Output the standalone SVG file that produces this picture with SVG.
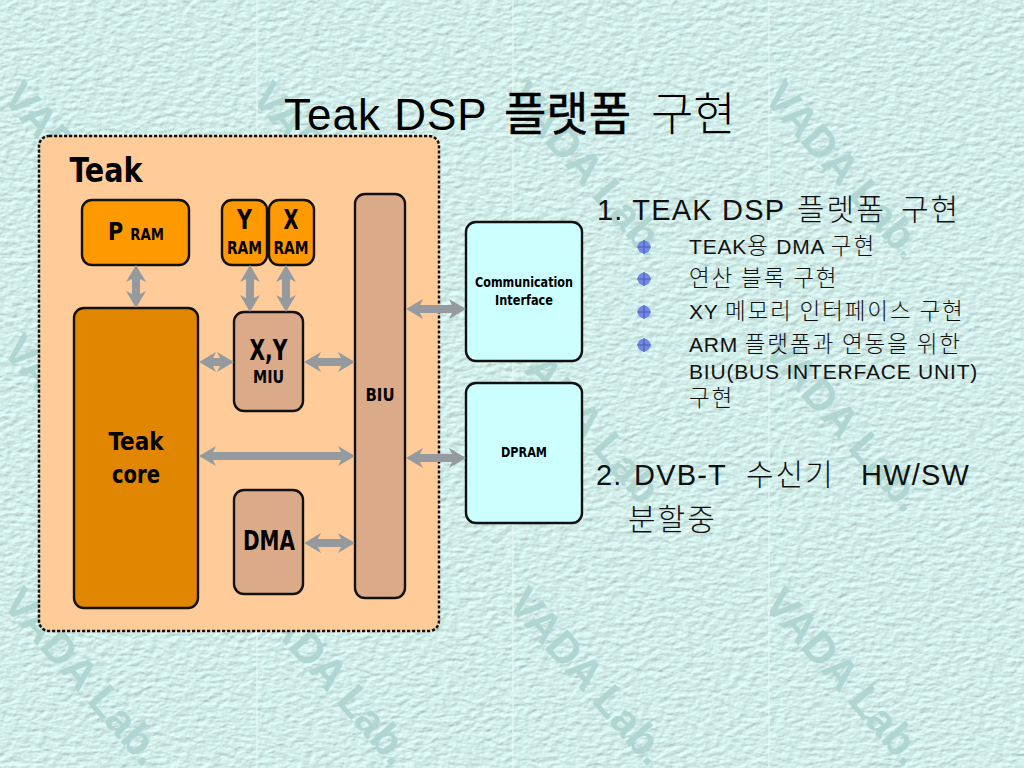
<svg xmlns="http://www.w3.org/2000/svg" width="1024" height="768" viewBox="0 0 1024 768">
<style>
.box{stroke:#111;stroke-width:2.4}
.b{font-family:"DejaVu Sans Condensed","DejaVu Sans",sans-serif;font-weight:700;fill:#000;text-anchor:middle}
.k{font-family:"Liberation Sans","Noto Sans CJK KR",sans-serif;fill:#111}
.wm{font-family:"Liberation Sans",sans-serif;font-weight:700;font-size:43px;fill:#b0d6d2}
.c{stroke:#959a9e;stroke-width:8;fill:none;marker-start:url(#ah);marker-end:url(#ah)}
.s1{font-size:29px;letter-spacing:1.2px}
.s2{font-size:21px;letter-spacing:.8px}
.h1{font-family:"Noto Sans CJK KR",sans-serif;font-size:30px;letter-spacing:2px;font-weight:300}
.h2{font-family:"Noto Sans CJK KR",sans-serif;font-size:22.5px;letter-spacing:1.9px;font-weight:300}
</style>
<defs>
<filter id="tex" x="0" y="0" width="100%" height="100%" color-interpolation-filters="sRGB">
<feTurbulence type="fractalNoise" baseFrequency="0.11 0.2" numOctaves="3" seed="4" result="n"/>
<feDiffuseLighting in="n" surfaceScale="0.75" diffuseConstant="1.12" lighting-color="#d4f0ec"><feDistantLight azimuth="235" elevation="62"/></feDiffuseLighting>
</filter>
<marker id="ah" markerUnits="userSpaceOnUse" markerWidth="20" markerHeight="24" refX="5" refY="12" orient="auto-start-reverse" viewBox="0 0 20 24">
<path d="M0 2L17 12L0 22L5 12Z" fill="#959a9e"/>
</marker>
<g id="bu"><circle r="6.5" fill="#7288e2"/><path d="M-7 0H7M0-7V7" stroke="#4a5fbd" stroke-width="1.1"/></g>
</defs>
<rect width="1024" height="768" fill="#fff" filter="url(#tex)"/>
<g id="watermark">
<text class="wm" transform="translate(1 98) rotate(49)">VADA Lab.</text>
<text class="wm" transform="translate(250 98) rotate(49)">VADA Lab.</text>
<text class="wm" transform="translate(506 98) rotate(49)">VADA Lab.</text>
<text class="wm" transform="translate(762 98) rotate(49)">VADA Lab.</text>
<text class="wm" transform="translate(1 351) rotate(49)">VADA Lab.</text>
<text class="wm" transform="translate(250 351) rotate(49)">VADA Lab.</text>
<text class="wm" transform="translate(506 351) rotate(49)">VADA Lab.</text>
<text class="wm" transform="translate(762 351) rotate(49)">VADA Lab.</text>
<text class="wm" transform="translate(1 604) rotate(49)">VADA Lab.</text>
<text class="wm" transform="translate(250 604) rotate(49)">VADA Lab.</text>
<text class="wm" transform="translate(506 604) rotate(49)">VADA Lab.</text>
<text class="wm" transform="translate(762 604) rotate(49)">VADA Lab.</text>
</g>
<g id="tile-seams" stroke="#eafaf8" stroke-width="1.1">
<path d="M257 0V768M513 0V768M769 0V768M0 256H1024M0 512H1024"/>
</g>
<text id="title" x="284" y="130" font-family="'Liberation Sans','Noto Sans CJK KR',sans-serif" font-size="44" letter-spacing="1" fill="#000">Teak DSP <tspan x="504" font-family="'Noto Sans CJK KR',sans-serif" font-size="46" letter-spacing="0" stroke="#000" stroke-width=".5">플랫폼</tspan> <tspan x="651" font-family="'Noto Sans CJK KR',sans-serif" font-size="46" letter-spacing="0" font-weight="300">구현</tspan></text>
<g id="teak">
<rect x="39" y="136" width="400" height="495" rx="10" fill="#ffcc99" stroke="#111" stroke-width="2.5" stroke-dasharray="3.2 1.8"/>
<text class="b" x="106" y="182" font-size="34" textLength="73" lengthAdjust="spacingAndGlyphs">Teak</text>
</g>
<g id="pram"><rect class="box" x="82" y="200" width="107" height="65" rx="10" fill="#ff9900"/><text class="b" x="136" y="240" font-size="25" textLength="56" lengthAdjust="spacingAndGlyphs">P <tspan font-size="16">RAM</tspan></text></g>
<g id="yram"><rect class="box" x="222" y="200" width="45" height="65" rx="10" fill="#ff9900"/><text class="b" x="244.500" y="229" font-size="26" textLength="15" lengthAdjust="spacingAndGlyphs">Y</text><text class="b" x="244.500" y="254" font-size="17" textLength="35" lengthAdjust="spacingAndGlyphs">RAM</text></g>
<g id="xram"><rect class="box" x="269" y="200" width="45" height="65" rx="10" fill="#ff9900"/><text class="b" x="291" y="229" font-size="26" textLength="15" lengthAdjust="spacingAndGlyphs">X</text><text class="b" x="291" y="254" font-size="17" textLength="35" lengthAdjust="spacingAndGlyphs">RAM</text></g>
<g id="core"><rect class="box" x="74" y="308" width="124" height="300" rx="10" fill="#e08600"/><text class="b" x="136" y="450" font-size="25" textLength="55" lengthAdjust="spacingAndGlyphs">Teak</text><text class="b" x="136" y="483" font-size="25" textLength="48" lengthAdjust="spacingAndGlyphs">core</text></g>
<g id="miu"><rect class="box" x="234" y="312" width="69" height="99" rx="10" fill="#dbaa88"/><text class="b" x="268.500" y="360" font-size="29" textLength="38" lengthAdjust="spacingAndGlyphs">X,Y</text><text class="b" x="268.500" y="383" font-size="17" textLength="31" lengthAdjust="spacingAndGlyphs">MIU</text></g>
<g id="dma"><rect class="box" x="234" y="490" width="69" height="104" rx="10" fill="#dbaa88"/><text class="b" x="269" y="550" font-size="27" textLength="52" lengthAdjust="spacingAndGlyphs">DMA</text></g>
<g id="biu"><rect class="box" x="355" y="194" width="50" height="404" rx="10" fill="#dbaa88"/><text class="b" x="380" y="401" font-size="17" textLength="29" lengthAdjust="spacingAndGlyphs">BIU</text></g>
<g id="comm"><rect class="box" x="466" y="222" width="116" height="139" rx="10" fill="#ccffff"/><text class="b" x="524" y="287" font-size="14.500" textLength="98" lengthAdjust="spacingAndGlyphs">Communication</text><text class="b" x="524" y="305" font-size="14.500" textLength="58" lengthAdjust="spacingAndGlyphs">Interface</text></g>
<g id="dpram"><rect class="box" x="466" y="383" width="116" height="140" rx="10" fill="#ccffff"/><text class="b" x="524" y="457" font-size="14.500" textLength="46" lengthAdjust="spacingAndGlyphs">DPRAM</text></g>
<g id="connectors">
<line class="c" x1="136" y1="277" x2="136" y2="296"/>
<line class="c" x1="250" y1="277" x2="250" y2="300"/>
<line class="c" x1="286" y1="277" x2="286" y2="300"/>
<line class="c" x1="211" y1="362" x2="222" y2="362"/>
<line class="c" x1="316" y1="362" x2="343" y2="362"/>
<line class="c" x1="211" y1="456" x2="343" y2="456"/>
<line class="c" x1="316" y1="543" x2="343" y2="543"/>
<line class="c" x1="418" y1="309" x2="454" y2="309"/>
<line class="c" x1="418" y1="458" x2="454" y2="458"/>
</g>
<g id="text">
<text class="k s1" x="597" y="220">1. TEAK DSP <tspan class="h1" x="797">플렛폼</tspan> <tspan class="h1" x="901">구현</tspan></text>
<use href="#bu" x="644" y="247"/><text class="k s2" x="689" y="254">TEAK<tspan class="h2">용</tspan> DMA <tspan class="h2">구현</tspan></text>
<use href="#bu" x="644" y="279"/><text class="k s2 h2" x="689" y="286">연산 블록 구현</text>
<use href="#bu" x="644" y="312"/><text class="k s2" x="689" y="319">XY <tspan class="h2">메모리 인터페이스 구현</tspan></text>
<use href="#bu" x="644" y="345"/><text class="k s2" x="689" y="352">ARM <tspan class="h2">플랫폼과 연동을 위한</tspan></text>
<text class="k s2" x="689" y="379">BIU(BUS INTERFACE UNIT)</text>
<text class="k s2 h2" x="689" y="406">구현</text>
<text class="k s1" x="596" y="485">2. <tspan x="634">DVB-T</tspan> <tspan class="h1" x="746">수신기</tspan> <tspan x="861">HW/SW</tspan></text>
<text class="k s1 h1" x="628" y="530">분할중</text>
</g>
</svg>
